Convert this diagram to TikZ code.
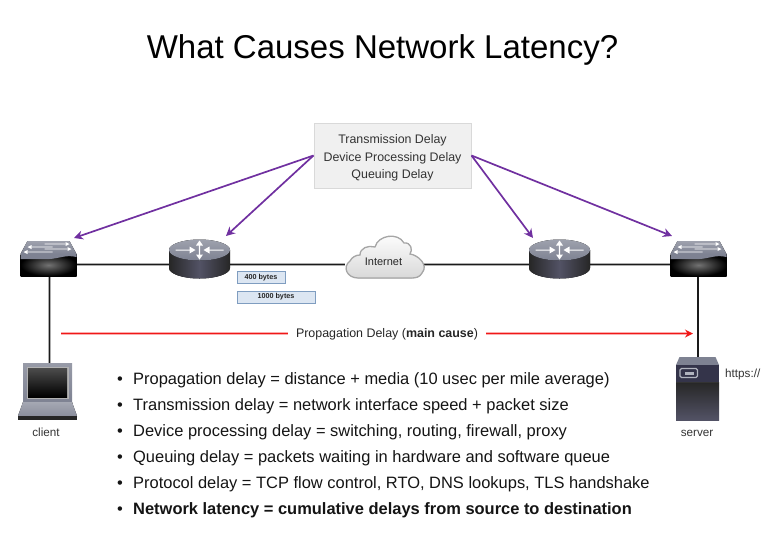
\documentclass[tikz,border=0pt]{standalone}
\usepackage{fontspec}
\setmainfont{Liberation Sans}
\usetikzlibrary{arrows.meta,backgrounds}
\definecolor{purpleline}{HTML}{7030A0}
\definecolor{redline}{HTML}{F01818}
\definecolor{wireline}{HTML}{1A1A1A}
\definecolor{devicetop}{HTML}{7E8292}
\definecolor{devicedark}{HTML}{34344A}
\definecolor{bytesfill}{HTML}{DCE6F2}
\definecolor{bytesline}{HTML}{7F9DC0}
\tikzset{
  blank/.style={inner sep=0pt,minimum width=#1},
  wire/.style={draw=wireline,line width=1.9pt},
  callarrow/.style={draw=purpleline,line width=1.7pt,-{Stealth[length=9pt,width=9pt]}},
  proparrow/.style={draw=redline,line width=1.6pt},
  delaybox/.style={draw=black!15,fill=black!6,line width=1pt,minimum width=157pt,minimum height=65pt,align=center,font=\fontsize{12.4}{17.7}\selectfont,text=black!80,inner sep=0pt},
  bytesbox/.style={draw=bytesline,fill=bytesfill,line width=0.9pt,minimum height=12pt,inner sep=0pt,font=\fontsize{7.2}{8}\selectfont\bfseries,text=black!85},
  label/.style={font=\fontsize{11.7}{14}\selectfont,text=black!80,inner sep=0pt},
  rowtext/.style={anchor=west,inner sep=0pt,font=\fontsize{16.45}{18}\selectfont,text=black!92},
  pics/switchicon/.style={code={
    \fill[top color=devicetop!75,bottom color=devicetop] (-21,-18) -- (21,-18) -- (28,-5) -- (-28,-5) -- cycle;
    \fill[inner color=black!55,outer color=black] (-28,-5) rectangle (28,17);
    \fill[devicetop] (-28,-5) -- (28,-5) -- (28,-2) .. controls (16,-5) and (8,1) .. (-4,0) -- (-28,0) -- cycle;
    \fill[white!90] (-4,-15.4) rectangle (17,-14.6) (-17,-12.4) rectangle (4,-11.6) (-4,-10.4) rectangle (19,-9.6) (-21,-7.4) rectangle (4,-6.6);
    \fill[white!90] (21,-15) -- (17,-17) -- (17,-13) -- cycle (-21,-12) -- (-17,-14) -- (-17,-10) -- cycle
      (23,-10) -- (19,-12) -- (19,-8) -- cycle (-25,-7) -- (-21,-9) -- (-21,-5) -- cycle;
  }},
  pics/routericon/.style={code={
    \fill[left color=black!85,right color=black!85,middle color=devicedark!85!white] (-30.5,-10) -- (-30.5,8) arc[start angle=180,end angle=0,x radius=30.5,y radius=10.5] -- (30.5,-10) -- cycle;
    \fill[top color=devicetop!75,bottom color=devicetop] (0,-10) ellipse[x radius=30.5,y radius=10.5];
    \fill[white!85] (-24,-10.5) rectangle (-8,-9.5) (8,-10.5) rectangle (24,-9.5) (-0.6,-15) rectangle (0.6,-5);
    \fill[white!85] (0,-19.5) -- (-3.5,-14.5) -- (3.5,-14.5) -- cycle (0,-0.5) -- (-3.5,-5.5) -- (3.5,-5.5) -- cycle
      (-4,-10) -- (-10,-13.5) -- (-10,-6.5) -- cycle (4,-10) -- (10,-13.5) -- (10,-6.5) -- cycle;
  }},
  pics/laptopicon/.style={code={
    \fill[top color=devicetop!80,bottom color=devicetop] (-24.5,-28) rectangle (24.5,11);
    \fill[black!30] (-21,-24.5) rectangle (21,7.5);
    \fill[top color=black!70,bottom color=black] (-19.5,-23) rectangle (19.5,6);
    \fill[top color=devicetop!70,bottom color=devicetop!90] (-24.5,11) -- (24.5,11) -- (29.5,25) -- (-29.5,25) -- cycle;
    \fill[black!85] (-29.5,25) rectangle (29.5,29);
  }},
  pics/servericon/.style={code={
    \fill[devicetop] (-18,-31.5) -- (18,-31.5) -- (21.5,-23.5) -- (-21.5,-23.5) -- cycle;
    \fill[devicedark] (-21.5,-23.5) rectangle (21.5,-6.5);
    \fill[top color=black!85,bottom color=devicedark!85!white] (-21.5,-6.5) rectangle (21.5,31.5);
    \fill[black!80] (-21.5,-6.9) rectangle (21.5,-6.1);
    \draw[devicetop!60!white,fill=devicedark,line width=1.2pt,rounded corners=1.5pt] (-17.5,-20) rectangle (0,-11);
    \fill[devicetop!60!white] (-13,-17) rectangle (-4,-14);
  }},
}
\begin{document}
\begin{tikzpicture}[x=1pt,y=-1pt]
\useasboundingbox (0,0) rectangle (768,539);
\node[inner sep=0pt,font=\fontsize{33}{38}\selectfont] (title) at (382.5,50) {What Causes Network Latency?};
\node[delaybox] (delays) at (392.5,155.5) {\rule{0pt}{14pt}Transmission Delay\\Device Processing Delay\\Queuing Delay};
% devices
\node[blank=56pt,minimum height=36pt] (switchl) at (48.5,259) {};
\node[blank=56pt,minimum height=36pt] (switchr) at (698.5,259) {};
\node[blank=61pt,minimum height=38pt] (routerl) at (199.5,260) {};
\node[blank=61pt,minimum height=38pt] (routerr) at (559.5,260) {};
\node[blank=49pt,minimum height=56pt] (laptop) at (47.5,391) {};
\node[blank=43pt,minimum height=63pt] (server) at (697.5,388.5) {};
\pic at (switchl) {switchicon};
\pic at (switchr) {switchicon};
\pic at (routerl) {routericon};
\pic at (routerr) {routericon};
\pic at (laptop) {laptopicon};
\pic at (server) {servericon};
% cloud
\fill[draw=black!35,line width=1.3pt,top color=white,bottom color=black!15]
  (358,278) .. controls (347,278) and (342,267) .. (350,261)
  .. controls (352,257) and (356,255) .. (360,255)
  .. controls (360,248) and (368,245) .. (375,247)
  .. controls (378,235) and (398,232) .. (404,243)
  .. controls (411,242) and (413,250) .. (410,254)
  .. controls (418,255) and (429,265) .. (422,273)
  .. controls (420,277) and (416,278) .. (412,278) -- cycle;
\node[inner sep=0pt,font=\fontsize{11}{13}\selectfont,text=black!85] (internet) at (383.5,262) {Internet};
\node[blank=78pt,minimum height=40pt] (cloud) at (384,260) {};
% packets
\node[bytesbox,minimum width=48pt] (small) at (261,277.5) {400 bytes};
\node[bytesbox,minimum width=78pt] (large) at (276,297) {1000 bytes};
% labels
\node[label] (client) at (46,432.5) {client};
\node[label] (servername) at (697,433.5) {server};
\node[label,anchor=west] (https) at (725,374.5) {https://};
\node[inner sep=8pt,font=\fontsize{12.45}{14}\selectfont,text=black!85] (prop) at (387,334.5) {Propagation Delay (\textbf{main cause})};
\coordinate (propl) at (61,333.5);
\coordinate (propr) at (693,333.535);
\coordinate (propa) at (prop.west |- 0,333.535);
\coordinate (propb) at (prop.east |- 0,333.5);
\coordinate (wirea) at (switchl.east |- 0,264.5);
\coordinate (wireb) at (routerl.west |- 0,264.535);
\coordinate (wirec) at (routerl.east |- 0,264.5);
\coordinate (wired) at (cloud.west |- 0,264.535);
\coordinate (wiree) at (cloud.east |- 0,264.5);
\coordinate (wiref) at (routerr.west |- 0,264.535);
\coordinate (wireg) at (routerr.east |- 0,264.5);
\coordinate (wireh) at (switchr.west |- 0,264.535);
\begin{scope}[on background layer]
\draw[wire] (wirea) -- (wireb);
\draw[wire] (wirec) -- (wired);
\draw[wire] (wiree) -- (wiref);
\draw[wire] (wireg) -- (wireh);
\draw[wire] (49.5,277) -- (49.535,363);
\draw[wire] (698,277) -- (698.035,357);
\end{scope}
\draw[proparrow] (propl) -- (propa);
\draw[proparrow,-{Stealth[length=8pt,width=8pt]}] (propb) -- (propr);
\draw[callarrow] (delays.west) -- (74,238);
\draw[callarrow] (delays.west) -- (226,236);
\draw[callarrow] (delays.east) -- (533,238);
\draw[callarrow] (delays.east) -- (672,236);
% bullet rows
\foreach \rowname/\rowy/\rowline in {
  rowa/380.5/{Propagation delay = distance + media (10 usec per mile average)},
  rowb/406/{Transmission delay = network interface speed + packet size},
  rowc/432.5/{Device processing delay = switching, routing, firewall, proxy},
  rowd/458.5/{Queuing delay = packets waiting in hardware and software queue},
  rowe/484.5/{Protocol delay = TCP flow control, RTO, DNS lookups, TLS handshake},
  rowf/510.5/{\textbf{Network latency = cumulative delays from source to destination}}}
  \node[rowtext] (\rowname) at (117,\rowy) {\makebox[16pt][l]{•}\rowline};
\end{tikzpicture}
\end{document}
